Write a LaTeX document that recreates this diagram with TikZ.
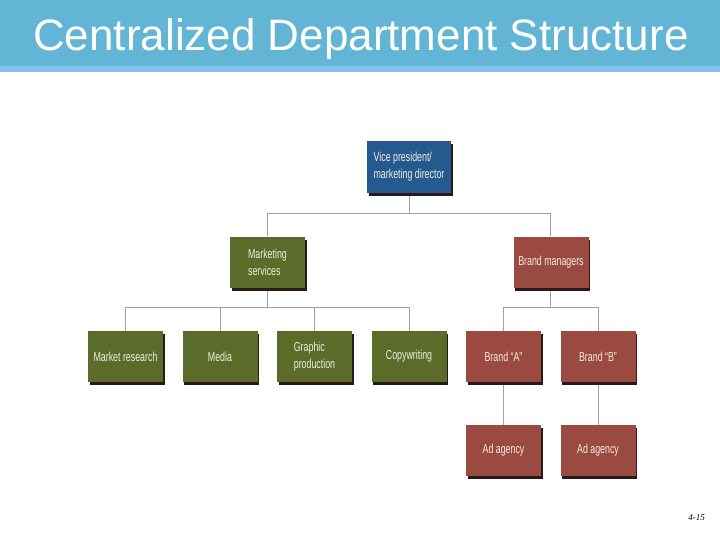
\documentclass[tikz,border=0pt]{standalone}
\usepackage{fontspec}
\setmainfont{Liberation Sans}
\newfontfamily\boxfont[FakeStretch=0.68]{Liberation Sans}
\newfontfamily\pagefont{Liberation Serif}
\definecolor{titlebar}{HTML}{62B5D5}
\definecolor{stripe}{HTML}{86BEF0}
\definecolor{vpblue}{HTML}{245A8E}
\definecolor{olive}{HTML}{5A6B2A}
\definecolor{brick}{HTML}{9A4A40}
\definecolor{shadowc}{HTML}{2A1A16}
\definecolor{linec}{HTML}{A0A0A0}
\definecolor{boxtext}{HTML}{F2EEDF}
\tikzset{
  orgbox/.style={draw=none, minimum width=75pt, minimum height=51pt, inner sep=2pt,
    text=boxtext, font=\boxfont\fontsize{13}{17}\selectfont, align=center},
  shadowed/.style={preaction={fill=shadowc, transform canvas={xshift=1.6pt,yshift=-3pt}}},
  vpbox/.style={orgbox, shadowed, fill=vpblue, minimum width=84pt, minimum height=52pt},
  grbox/.style={orgbox, shadowed, fill=olive},
  rdbox/.style={orgbox, shadowed, fill=brick},
  conn/.style={draw=linec, line width=0.9pt}
}
\begin{document}
\begin{tikzpicture}[x=1pt,y=-1pt]
\useasboundingbox (0,0) rectangle (720,540);
\fill[white] (0,0) rectangle (720,540);
\fill[titlebar] (0,0) rectangle (720,66);
\fill[stripe] (0,66) rectangle (720,72);
\node[anchor=base west, text=white, font=\fontsize{44}{46}\selectfont, inner sep=0pt] (title) at (33,51) {Centralized Department Structure};
\node[anchor=base east, font=\pagefont\itshape\fontsize{9}{10}\selectfont, inner sep=0pt] (pg) at (705,520) {4-15};

% connectors
\coordinate (j1) at (409,213);
\coordinate (j1l) at (267,213);
\coordinate (j1r) at (550,213);
\coordinate (j2) at (267,307);
\coordinate (j2l) at (125,307);
\coordinate (j2r) at (409,307);
\coordinate (j3) at (550,307);
\coordinate (j3l) at (503,307);
\coordinate (j3r) at (598,307);
\draw[conn] (409,193) -- (j1);
\draw[conn] (j1l) -- (j1r);
\draw[conn] (j1l) -- (267,236);
\draw[conn] (j1r) -- (550,236);
\draw[conn] (267,288) -- (j2);
\draw[conn] (j2l) -- (j2r);
\draw[conn] (125,307) -- (125,331);
\draw[conn] (220,307) -- (220,331);
\draw[conn] (314,307) -- (314,331);
\draw[conn] (409,307) -- (409,331);
\draw[conn] (550,288) -- (j3);
\draw[conn] (j3l) -- (j3r);
\draw[conn] (503,307) -- (503,331);
\draw[conn] (598,307) -- (598,331);
\draw[conn] (503,382) -- (503,425);
\draw[conn] (598,382) -- (598,425);

% boxes
\node[vpbox, align=left] (vp) at (409,167) {Vice president/\\marketing director};
\node[grbox, align=left] (ms) at (267.5,262) {Marketing\\services};
\node[rdbox] (bm) at (551,262) {Brand managers};
\node[grbox] (mr) at (125.5,356.5) {Market research};
\node[grbox] (md) at (220,356.5) {Media};
\node[grbox, align=left] (gp) at (314.5,356.5) {Graphic\\production};
\node[grbox] (cw) at (409,356.5) {Copywriting};
\node[rdbox] (ba) at (503.5,356.5) {Brand “A”};
\node[rdbox] (bb) at (598,356.5) {Brand “B”};
\node[rdbox] (aa) at (503.5,450.5) {Ad agency};
\node[rdbox] (ab) at (598,450.5) {Ad agency};
\end{tikzpicture}
\end{document}
